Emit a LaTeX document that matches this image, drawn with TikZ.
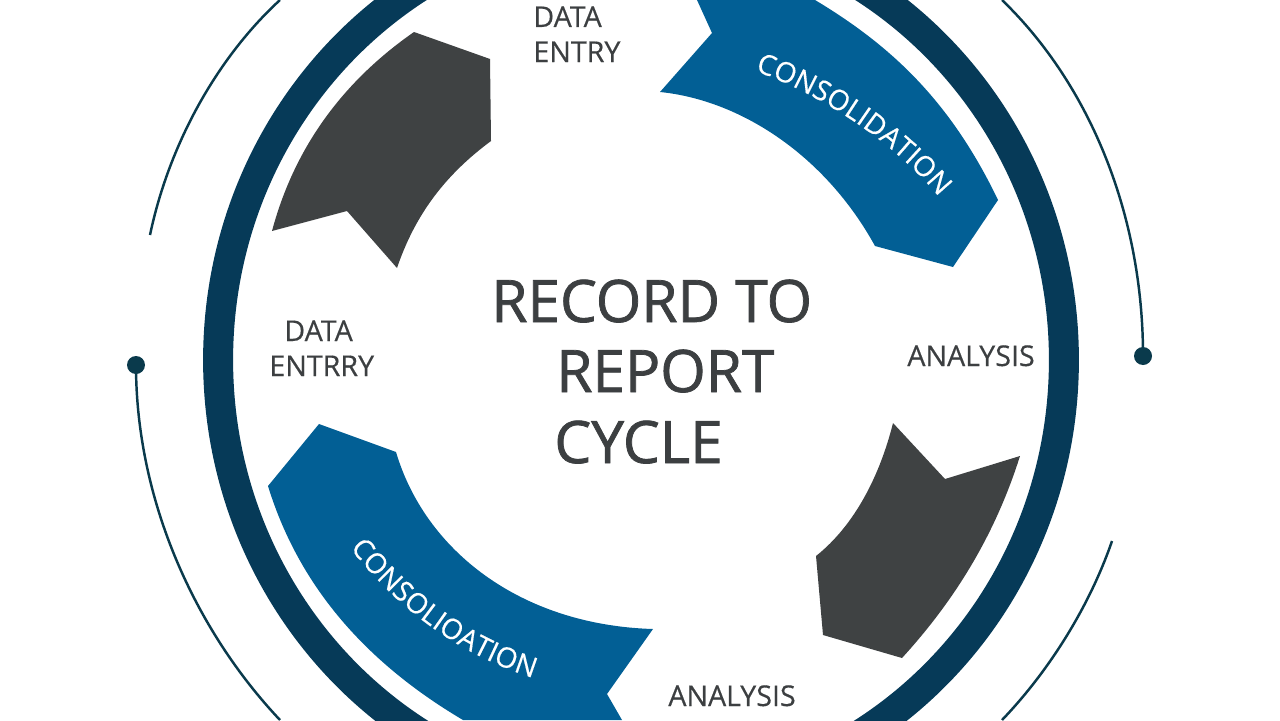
\documentclass[tikz,border=0pt]{standalone}
\usepackage{fontspec}
\setmainfont{Open Sans}
\newfontfamily\titlefont{Open Sans}[FakeBold=1.3]
\newfontfamily\stepfont{Open Sans}[FakeBold=0.4]
\usetikzlibrary{decorations.text}
\definecolor{ringblue}{HTML}{063A58}
\definecolor{arrowblue}{HTML}{025F95}
\definecolor{arrowgray}{HTML}{3F4243}
\definecolor{thinline}{HTML}{0A3A4C}
\definecolor{labelgray}{HTML}{3C3F41}
\tikzset{
  thinarc/.style={thinline,line width=1.4pt},
  enddot/.style={circle,fill=thinline,inner sep=0pt,minimum size=0.36cm},
  titletext/.style={anchor=base west,inner sep=0pt,text=labelgray,font=\titlefont\fontsize{33.3}{40}\selectfont},
  steptext/.style={anchor=base west,inner sep=0pt,text=labelgray,font=\stepfont\fontsize{16.3}{20.5}\selectfont},
  curvedtext/.style={decorate,decoration={text along path,text align=fit to path,text={|\stepfont\fontsize{16}{18}\selectfont\color{white}|#1}}}
}
\begin{document}
\begin{tikzpicture}[x=0.02cm,y=-0.02cm]
  \useasboundingbox (0,0) rectangle (1280,720);
  \clip (0,0) rectangle (1280,720);

  % Draw the thick ring
  \fill[ringblue,even odd rule] (641,360) ellipse[x radius=8.76cm,y radius=9.08cm]
    (641,360) ellipse[x radius=8.16cm,y radius=8.46cm];

  % Draw the thin outer arcs and their dots
  \node[enddot] (dotright) at (1143,356) {};
  \node[enddot] (dotleft) at (136,365) {};
  \draw[thinarc] (1002,0) .. controls (1090,85) and (1143,215) .. (dotright.center);
  \draw[thinarc] (150,235) .. controls (170,140) and (220,55) .. (280,0);
  \draw[thinarc] (dotleft.center) .. controls (136,500) and (195,630) .. (280,720);
  \draw[thinarc] (1112,541) .. controls (1090,605) and (1050,670) .. (1002,720);

  % Draw the two blue arrows
  \fill[arrowblue] (697,0) -- (712,33) -- (660,92)
    .. controls (740,100) and (825,155) .. (875,246)
    -- (953,267) -- (998,200)
    .. controls (950,100) and (890,45) .. (815,0) -- cycle;
  \fill[arrowblue] (319,424) -- (396,452)
    .. controls (425,550) and (520,625) .. (653,629)
    -- (607,694) -- (622,720) -- (463,720)
    .. controls (370,665) and (300,590) .. (268,486) -- cycle;

  % Draw the two gray arrows
  \fill[arrowgray] (414,32) -- (490,59) -- (491,141)
    .. controls (445,175) and (415,215) .. (397,268)
    -- (347,211) -- (272,231)
    .. controls (295,145) and (345,80) .. cycle;
  \fill[arrowgray] (893,423) -- (945,479) -- (1020,456)
    .. controls (995,535) and (955,600) .. (902,658)
    -- (823,635) -- (816,556)
    .. controls (855,525) and (880,475) .. cycle;

  % Draw the words on the blue arrows
  \path[curvedtext=CONSOLIDATION] (755,71) .. controls (810,90) and (888,135) .. (939,197);
  \path[curvedtext=CONSOLIOATION] (350,548) .. controls (385,592) and (440,648) .. (533,678);

  % Draw the title
  \node[titletext] (titleone) at (491,322) {RECORD TO};
  \node[titletext] (titletwo) at (556,392) {REPORT};
  \node[titletext] (titlethree) at (554,463) {CYCLE};

  % Draw the labels
  \node[steptext] (datatop) at (533,27) {DATA};
  \node[steptext] (entrytop) at (533,62) {ENTRY};
  \node[steptext] (dataleft) at (284,341) {DATA};
  \node[steptext] (entryleft) at (269,376) {ENTRRY};
  \node[steptext] (analysisright) at (907,366) {ANALYSIS};
  \node[steptext] (analysisbottom) at (668,706) {ANALYSIS};
\end{tikzpicture}
\end{document}
